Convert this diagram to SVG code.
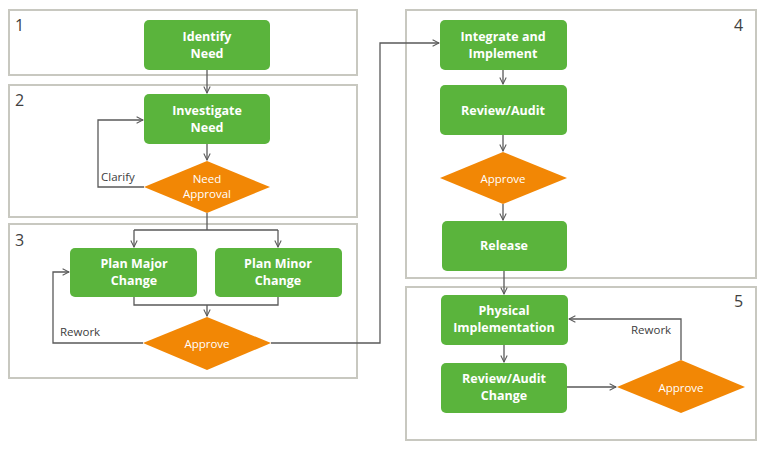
<svg xmlns="http://www.w3.org/2000/svg" width="770" height="460" viewBox="0 0 770 460">
<defs>
<marker id="ar" viewBox="0 0 10 10" refX="9" refY="5" markerWidth="8" markerHeight="8" orient="auto" markerUnits="userSpaceOnUse"><path d="M1,1 L9,5 L1,9" fill="none" stroke="#595959" stroke-width="1.3"/></marker>
<style>
.panel{fill:#fff;stroke:#c8c8c0;stroke-width:2}
.num{font-family:"Open Sans","DejaVu Sans",sans-serif;font-size:16px;fill:#404040}
.box{fill:#5ab43c}
.dia{fill:#f28705}
.bt{font-family:"Open Sans","DejaVu Sans",sans-serif;font-size:12.5px;font-weight:bold;fill:#fff;text-anchor:middle}
.dt{font-family:"Open Sans","DejaVu Sans",sans-serif;font-size:11.5px;fill:#fff;text-anchor:middle}
.lbl{font-family:"Open Sans","DejaVu Sans",sans-serif;font-size:11.5px;fill:#404040}
.c{fill:none;stroke:#595959;stroke-width:1.3}
</style>
</defs>
<rect width="770" height="460" fill="#fff"/>
<g id="panels">
<rect class="panel" x="9" y="10" width="348" height="65"/>
<rect class="panel" x="9" y="85" width="348" height="132"/>
<rect class="panel" x="9" y="224" width="348" height="154"/>
<rect class="panel" x="406" y="10" width="350" height="268"/>
<rect class="panel" x="406" y="287" width="350" height="153"/>
<text class="num" x="15" y="31">1</text>
<text class="num" x="15" y="106">2</text>
<text class="num" x="15" y="246">3</text>
<text class="num" x="734" y="31">4</text>
<text class="num" x="734" y="307">5</text>
</g>
<g id="connectors">
<path class="c" d="M207,70 V93" marker-end="url(#ar)"/>
<path class="c" d="M207,144 V160" marker-end="url(#ar)"/>
<path class="c" d="M144,187 H98 V120 H143" marker-end="url(#ar)"/>
<path class="c" d="M207,213 V230"/>
<path class="c" d="M134,230 H278"/>
<path class="c" d="M134,230 V247" marker-end="url(#ar)"/>
<path class="c" d="M278,230 V247" marker-end="url(#ar)"/>
<path class="c" d="M134,297 V305 H278 V297"/>
<path class="c" d="M207,305 V316" marker-end="url(#ar)"/>
<path class="c" d="M143,343 H53 V272 H69" marker-end="url(#ar)"/>
<path class="c" d="M271,343 H380 V43 H439" marker-end="url(#ar)"/>
<path class="c" d="M503,70 V84" marker-end="url(#ar)"/>
<path class="c" d="M503,135 V151" marker-end="url(#ar)"/>
<path class="c" d="M503,204 V220" marker-end="url(#ar)"/>
<path class="c" d="M504,271 V294" marker-end="url(#ar)"/>
<path class="c" d="M504,345 V362" marker-end="url(#ar)"/>
<path class="c" d="M567,387 H616" marker-end="url(#ar)"/>
<path class="c" d="M681,360 V319 H569" marker-end="url(#ar)"/>
<text class="lbl" x="101" y="181">Clarify</text>
<text class="lbl" x="60" y="336">Rework</text>
<text class="lbl" x="631" y="334">Rework</text>
</g>
<g id="identify"><rect class="box" x="144" y="20" width="126" height="50" rx="5"/><text class="bt" x="207" y="41">Identify</text><text class="bt" x="207" y="58">Need</text></g>
<g id="investigate"><rect class="box" x="144" y="94" width="126" height="50" rx="5"/><text class="bt" x="207" y="115">Investigate</text><text class="bt" x="207" y="132">Need</text></g>
<g id="needapproval"><polygon class="dia" points="207,161 270,187 207,213 144,187"/><text class="dt" x="207" y="183">Need</text><text class="dt" x="207" y="198">Approval</text></g>
<g id="planmajor"><rect class="box" x="70" y="248" width="127" height="49" rx="5"/><text class="bt" x="134" y="268">Plan Major</text><text class="bt" x="134" y="285">Change</text></g>
<g id="planminor"><rect class="box" x="215" y="248" width="127" height="49" rx="5"/><text class="bt" x="278" y="268">Plan Minor</text><text class="bt" x="278" y="285">Change</text></g>
<g id="approve1"><polygon class="dia" points="207,317 271,343 207,370 143,343"/><text class="dt" x="207" y="348">Approve</text></g>
<g id="integrate"><rect class="box" x="440" y="20" width="127" height="50" rx="5"/><text class="bt" x="503" y="41">Integrate and</text><text class="bt" x="503" y="58">Implement</text></g>
<g id="review1"><rect class="box" x="440" y="85" width="127" height="50" rx="5"/><text class="bt" x="503" y="115">Review/Audit</text></g>
<g id="approve2"><polygon class="dia" points="503,152 567,178 503,204 440,178"/><text class="dt" x="503" y="183">Approve</text></g>
<g id="release"><rect class="box" x="442" y="221" width="125" height="50" rx="5"/><text class="bt" x="504" y="250">Release</text></g>
<g id="physical"><rect class="box" x="441" y="295" width="127" height="50" rx="5"/><text class="bt" x="504" y="315">Physical</text><text class="bt" x="504" y="332">Implementation</text></g>
<g id="review2"><rect class="box" x="441" y="363" width="126" height="50" rx="5"/><text class="bt" x="504" y="383">Review/Audit</text><text class="bt" x="504" y="400">Change</text></g>
<g id="approve3"><polygon class="dia" points="681,360 745,387 681,413 617,387"/><text class="dt" x="681" y="392">Approve</text></g>
</svg>
